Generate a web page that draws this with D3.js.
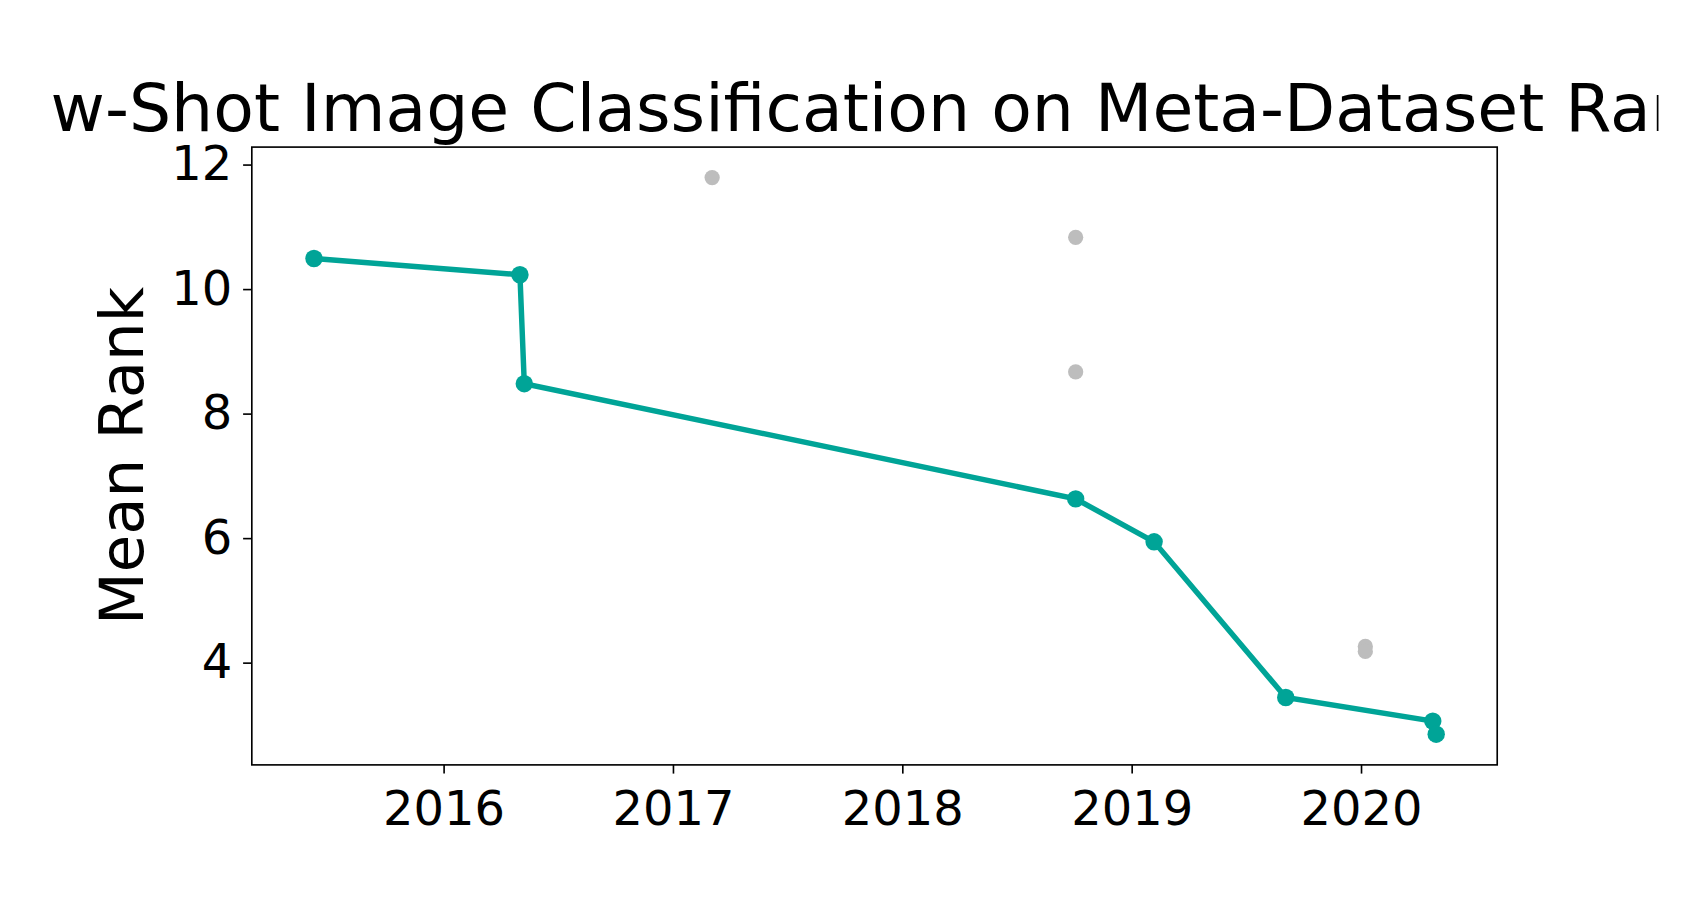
<!DOCTYPE html>
<html><head><meta charset="utf-8">
<script src="https://cdn.jsdelivr.net/npm/d3@7"></script>
<style>body{margin:0;background:#fff}</style></head>
<body><svg id="c" width="1700" height="900" viewBox="0 0 1560 826"></svg>
<script>
const frontierDates = [2015.435, 2016.333, 2016.352, 2018.756, 2019.098, 2019.672, 2020.313, 2020.328];
const frontierRanks = [10.49, 10.23, 8.48, 6.63, 5.94, 3.44, 3.06, 2.85];
const otherDates = [2017.171, 2018.756, 2018.756, 2020.019, 2020.019];
const otherRanks = [11.79, 10.83, 8.67, 4.26, 4.18];
const xTicks = [2016, 2017, 2018, 2019, 2020];
const yTicks = [4, 6, 8, 10, 12];
const titleText = "Few-Shot Image Classification on Meta-Dataset Rank";

const svg = d3.select("#c");
const L = 231, R = 1374, T = 135, B = 702;
const x = d3.scaleLinear().domain([2015.164, 2020.594]).range([L, R]);
const y = d3.scaleLinear().domain([2.357, 12.28]).range([B, T]);
const font = "DejaVu Sans, sans-serif";

svg.append("clipPath").attr("id","tc").append("rect").attr("x",45).attr("y",0).attr("width",1477).attr("height",140);
svg.append("text").attr("clip-path","url(#tc)").attr("x",783).attr("y",120).attr("text-anchor","middle")
  .attr("font-family",font).attr("font-size",61).text(titleText);

const xa = svg.append("g").attr("transform",`translate(0,${B})`)
  .call(d3.axisBottom(x).tickValues(xTicks).tickFormat(d3.format("d")).tickSize(8).tickPadding(10));
const ya = svg.append("g").attr("transform",`translate(${L},0)`)
  .call(d3.axisLeft(y).tickValues(yTicks).tickSize(8).tickPadding(10));
[xa,ya].forEach(a=>{a.select(".domain").remove();a.selectAll("line").attr("stroke","#000").attr("stroke-width",1.5);
  a.selectAll("text").attr("font-family",font).attr("font-size",44).attr("fill","#000");});
xa.selectAll("text").attr("dy","0.85em");
svg.append("rect").attr("x",L).attr("y",T).attr("width",R-L).attr("height",B-T).attr("fill","none").attr("stroke","#000").attr("stroke-width",1.5);

svg.append("text").attr("transform",`translate(131,${(T+B)/2}) rotate(-90)`).attr("text-anchor","middle")
  .attr("font-family",font).attr("font-size",56).text("Mean Rank");

svg.selectAll(".o").data(otherDates).enter().append("circle")
  .attr("cx",d=>x(d)).attr("cy",(d,i)=>y(otherRanks[i])).attr("r",7).attr("fill","#bdbdbd");
const pts = frontierDates.map((d,i)=>[d,frontierRanks[i]]);
svg.append("path").attr("d",d3.line().x(d=>x(d[0])).y(d=>y(d[1]))(pts))
  .attr("fill","none").attr("stroke","#00a497").attr("stroke-width",5);
svg.selectAll(".f").data(pts).enter().append("circle")
  .attr("cx",d=>x(d[0])).attr("cy",d=>y(d[1])).attr("r",8).attr("fill","#00a497");
</script></body></html>
